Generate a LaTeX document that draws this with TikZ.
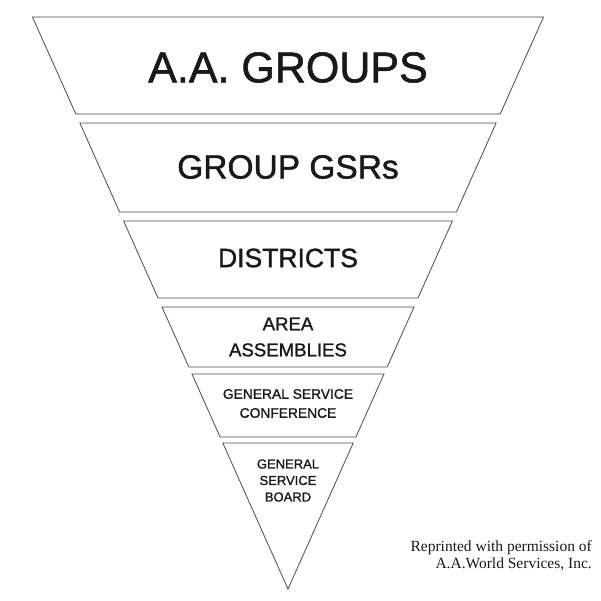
\documentclass[tikz,border=0pt]{standalone}
\usepackage{fontspec}
\setmainfont{Liberation Sans}
\newfontfamily\tierfont[FakeBold=1.3]{Liberation Sans}
\newfontfamily\creditfont{Liberation Serif}
\begin{document}
\begin{tikzpicture}[x=1pt,y=-1pt,
        band/.style={draw=black!70,line width=0.8pt},
        tier/.style={inner sep=0pt,align=center,text=black!90}]
  \useasboundingbox (0,0) rectangle (600,601);
  \foreach \t/\b in {17/114,123/212,221/298,307/367,374/437}{
    \pgfmathsetmacro\wt{0.4467*(589-\t)}
    \pgfmathsetmacro\wb{0.4467*(589-\b)}
    \draw[band] (288-\wt,\t) -- (288+\wt,\t) -- (288+\wb,\b) -- (288-\wb,\b) -- cycle;
  }
  \draw[band] (222.8,443) -- (353.2,443) -- (288,589) -- cycle;
  \node[tier,font=\tierfont\fontsize{43}{50}\selectfont] (groups) at (288,67.5) {A.A. GROUPS};
  \node[tier,font=\tierfont\fontsize{33.5}{40}\selectfont] (gsrs) at (288,167) {GROUP GSRs};
  \node[tier,font=\tierfont\fontsize{26.5}{32}\selectfont] (districts) at (288,258) {DISTRICTS};
  \node[tier,font=\tierfont\fontsize{18.6}{26}\selectfont] (assemblies) at (288,337) {AREA\\ASSEMBLIES};
  \node[tier,font=\tierfont\fontsize{13.8}{19}\selectfont] (conference) at (288,403.5) {GENERAL SERVICE\\CONFERENCE};
  \node[tier,font=\tierfont\fontsize{13}{16.5}\selectfont] (board) at (288,480.5) {GENERAL\\SERVICE\\BOARD};
  \node[tier,align=right,anchor=north east,font=\creditfont\fontsize{15.5}{17}\selectfont] (credit) at (592,540.4)
    {Reprinted with permission of\\A.A.World Services, Inc.};
\end{tikzpicture}
\end{document}
